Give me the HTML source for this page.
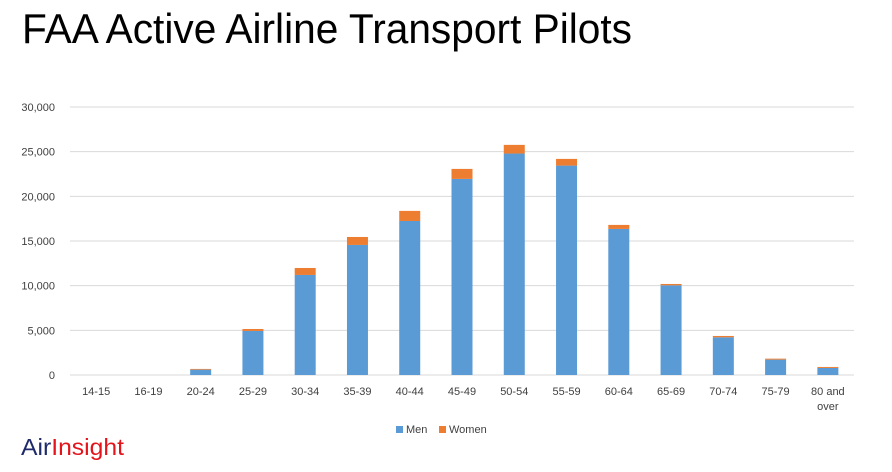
<!DOCTYPE html>
<html><head><meta charset="utf-8"><style>
html,body{margin:0;padding:0;background:#fff;}
svg{display:block;font-family:"Liberation Sans",sans-serif;}
</style></head><body>
<svg id="chart" width="892" height="472" viewBox="0 0 892 472">
<text x="22" y="43" font-size="42" fill="#000" textLength="610" lengthAdjust="spacingAndGlyphs">FAA Active Airline Transport Pilots</text>
<g id="grid"></g>
<g id="yticks"></g>
<g id="bars"></g>
<g id="xticks"></g>
<g>
<g><rect x="396" y="426" width="7" height="7" fill="#5B9BD5"/><text x="406" y="433" font-size="11" fill="#404040">Men</text></g>
<g><rect x="439" y="426" width="7" height="7" fill="#ED7D31"/><text x="449" y="433" font-size="11" fill="#404040">Women</text></g>
</g>
<text x="21" y="455" font-size="23" textLength="103" lengthAdjust="spacingAndGlyphs"><tspan fill="#1F2A6B">Air</tspan><tspan fill="#E3141C">Insight</tspan></text>
</svg>
<script>
const categories=["14-15","16-19","20-24","25-29","30-34","35-39","40-44","45-49","50-54","55-59","60-64","65-69","70-74","75-79","80 and|over"];
const men=[0,0,600,4930,11200,14560,17240,21950,24790,23440,16350,10040,4220,1720,790];
const women=[0,0,80,220,780,890,1130,1120,970,750,450,150,150,110,110];
const yTicks=[0,5000,10000,15000,20000,25000,30000];
const yMax=30000;
const L=70,R=854,T=107,B=375;
const ns="http://www.w3.org/2000/svg";
function y(v){return B-(v/yMax)*(B-T);}
const band=(R-L)/categories.length;
function xc(i){return L+band*(i+0.5);}
function mk(t,a,p){const e=document.createElementNS(ns,t);for(const k in a)e.setAttribute(k,a[k]);p.appendChild(e);return e;}
const grid=document.getElementById('grid'),yt=document.getElementById('yticks'),bars=document.getElementById('bars'),xt=document.getElementById('xticks');
yTicks.forEach(v=>{
 const l=mk('line',{x1:L,x2:R,y1:y(v),y2:y(v),stroke:'#D9D9D9','stroke-width':1},grid);
 
 
 const t=mk('text',{x:55,y:y(v)+4,'font-size':11,fill:'#404040','text-anchor':'end'},yt);
 t.textContent=v.toLocaleString('en-US');
 
 
});
const bw=21;
categories.forEach((c,i)=>{
 const m=mk('rect',{x:xc(i)-bw/2,y:y(men[i]),width:bw,height:B-y(men[i]),fill:'#5B9BD5'},bars);
 
 
 const w=mk('rect',{x:xc(i)-bw/2,y:y(men[i]+women[i]),width:bw,height:y(men[i])-y(men[i]+women[i]),fill:'#ED7D31'},bars);
 
 
 c.split('|').forEach((s,j)=>{
  const t=mk('text',{x:xc(i),y:395+j*15,'font-size':11,fill:'#404040','text-anchor':'middle'},xt);
  t.textContent=s;
  
  
 });
});
</script>
</body></html>
